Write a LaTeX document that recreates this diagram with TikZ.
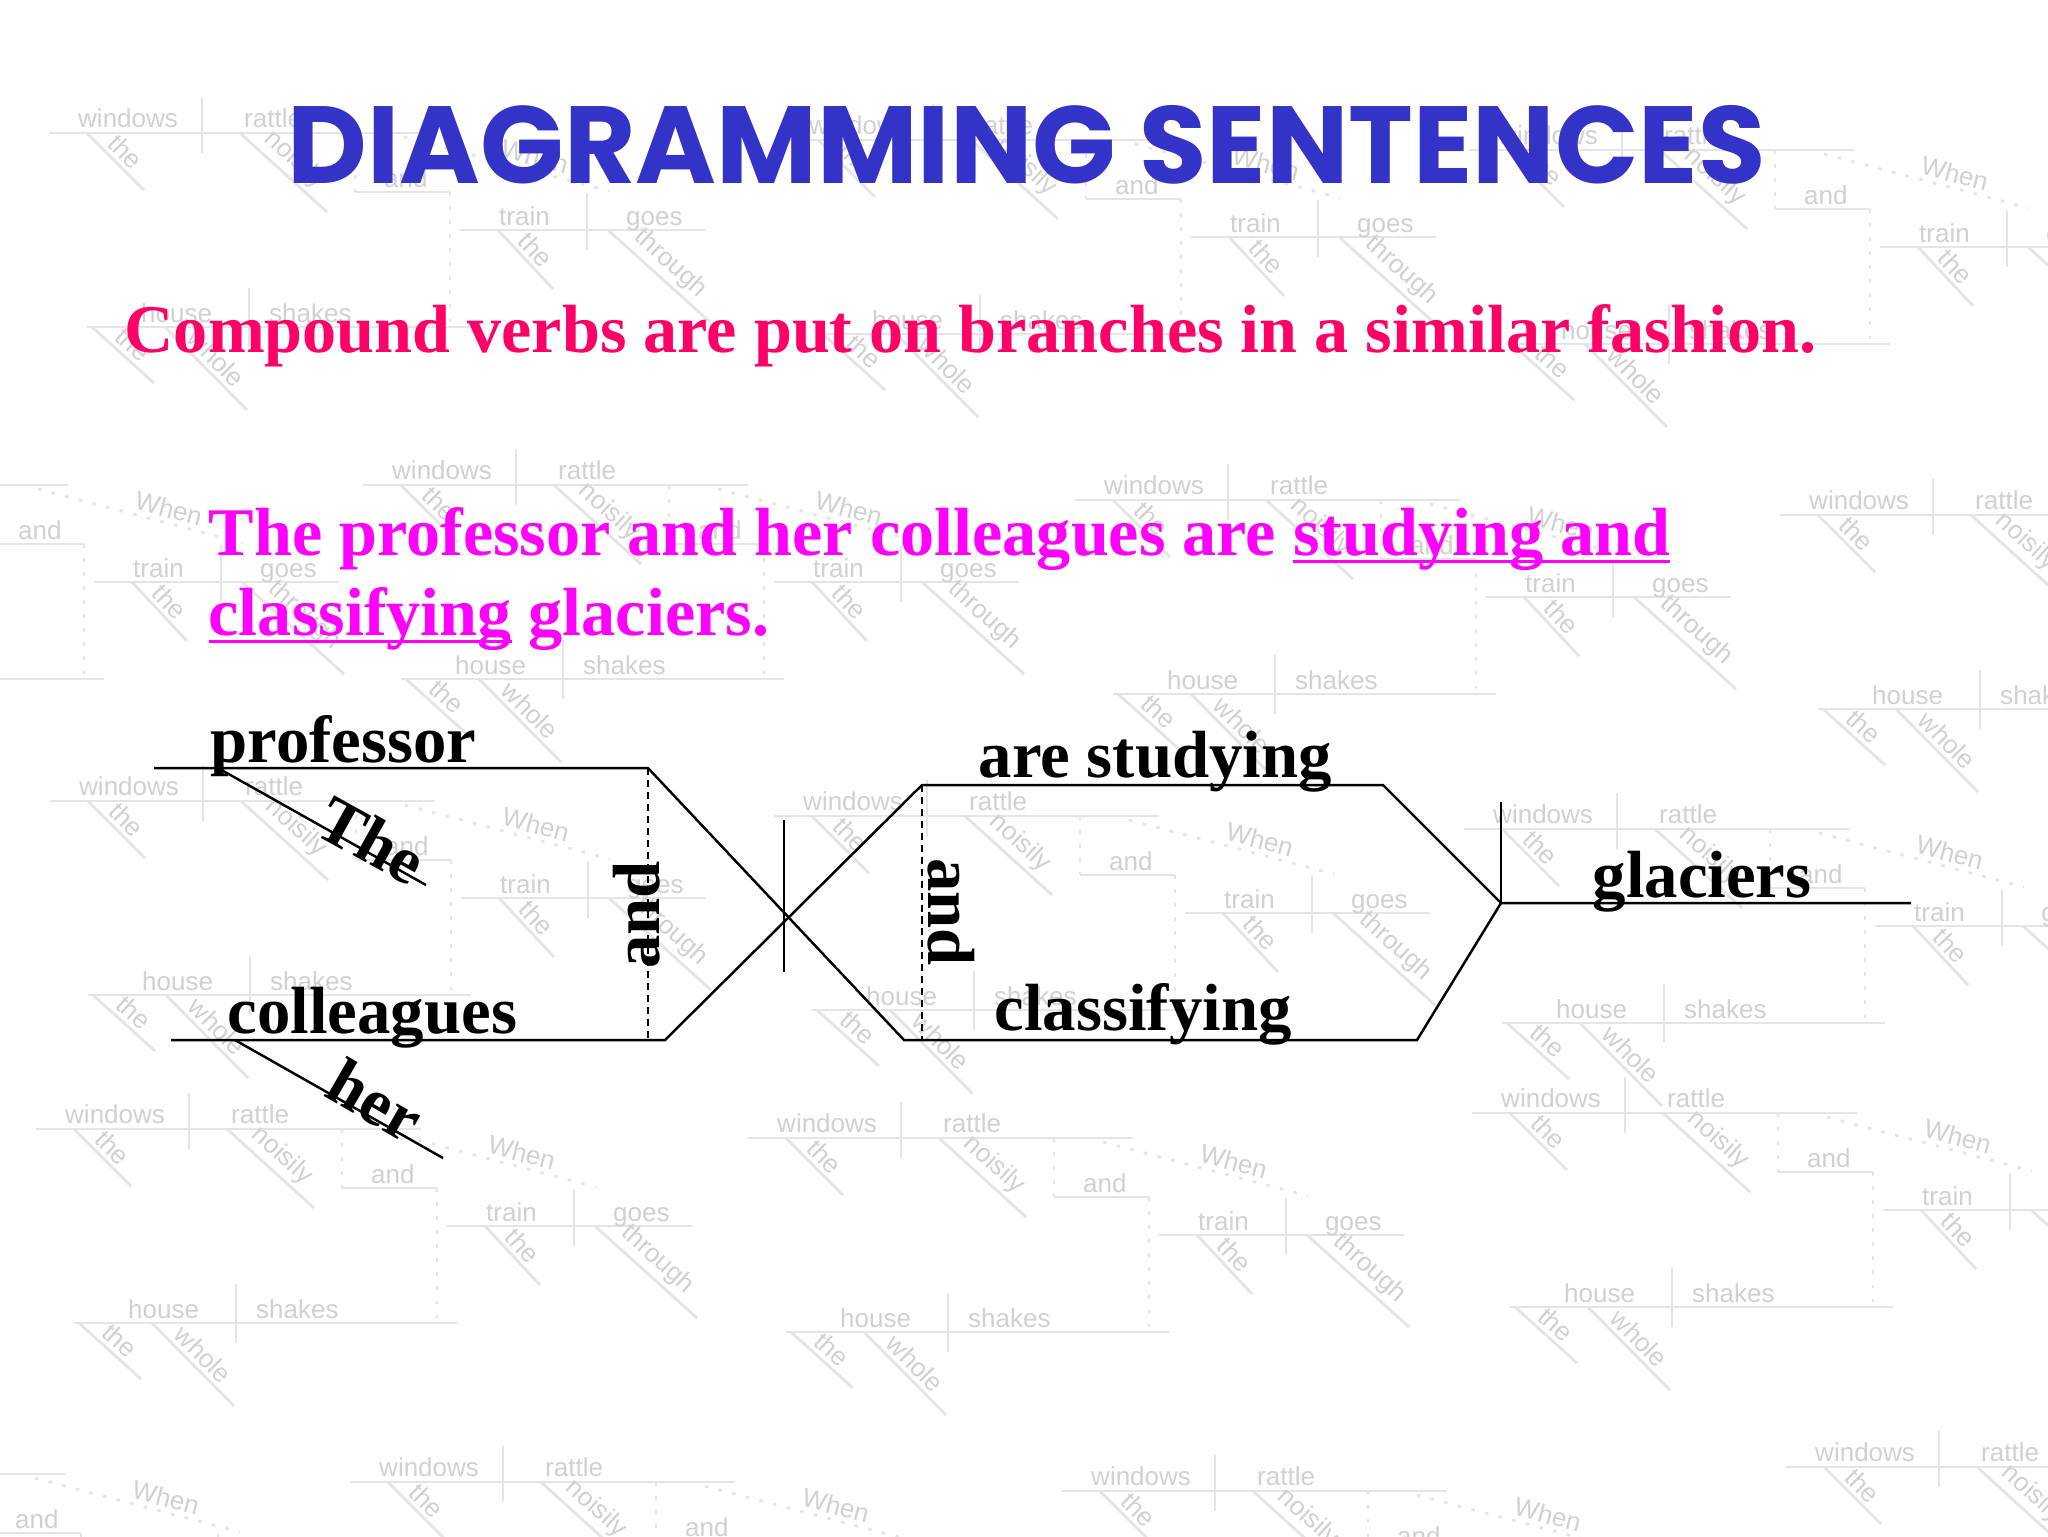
\documentclass[tikz,border=0pt]{standalone}
\usepackage{fontspec}
\setmainfont{Liberation Serif}
\newfontfamily\titlefont{Poppins}
\newfontfamily\bgfont{Liberation Sans}
\usetikzlibrary{positioning}

\definecolor{titleblue}{RGB}{51,51,200}
\definecolor{rulered}{RGB}{255,0,102}
\definecolor{samplepink}{RGB}{255,0,255}

% underline at a fixed depth, through the descenders
\newsavebox\ulbox
\newcommand{\ulword}[1]{\sbox\ulbox{#1}\rlap{\rule[-2.4pt]{\wd\ulbox}{0.85pt}}\usebox\ulbox}

\tikzset{
  word/.style={font=\fontsize{19}{19}\selectfont\bfseries, inner sep=0pt},
  baseline line/.style={line width=0.7pt},
  joiner/.style={line width=0.7pt, dash pattern=on 2pt off 1.4pt},
  bgline/.style={line width=0.8pt, black!10},
  bgdots/.style={line width=0.8pt, black!10, dash pattern=on 1pt off 3pt},
  bgtext/.style={font=\bgfont\fontsize{7.4}{7.4}\selectfont, text=black!18, inner sep=1pt},
}

% one faint watermark diagram, origin at left end of its first baseline
\newcommand{\bgtile}[3]{%
  \begin{scope}[shift={(#1,#2)}]
    \draw[bgline] (0,0) -- (385,0);
    \draw[bgline] (153,-36) -- (153,20);
    \node[bgtext, anchor=base west] (win#3) at (25,-6) {windows};
    \node[bgtext, anchor=base west] (rat#3) at (191,-6) {rattle};
    \draw[bgline] (38,0) -- node[bgtext, sloped, above] (tha#3) {the} (95,57);
    \draw[bgline] (191,0) -- node[bgtext, sloped, above] (noi#3) {noisily} (278,79);
    \draw[bgdots] (306,0) -- (306,59);
    \draw[bgline] (306,59) -- (401,59);
    \node[bgtext, anchor=base west] (and#3) at (331,54) {and};
    \draw[bgdots] (401,59) -- (401,194);
    % second clause
    \draw[bgline] (411,97) -- (656,97);
    \draw[bgline] (538,60) -- (538,117);
    \node[bgtext, anchor=base west] (tra#3) at (446,92) {train};
    \node[bgtext, anchor=base west] (goe#3) at (573,92) {goes};
    \draw[bgline] (449,97) -- node[bgtext, sloped, above] (thb#3) {the} (504,156);
    \draw[bgline] (559,97) -- node[bgtext, sloped, above] (thr#3) {through} (661,189);
    % main clause
    \draw[bgline] (38,194) -- (421,194);
    \draw[bgline] (200,155) -- (200,214);
    \node[bgtext, anchor=base west] (hou#3) at (88,189) {house};
    \node[bgtext, anchor=base west] (sha#3) at (216,189) {shakes};
    \draw[bgline] (43,194) -- node[bgtext, sloped, above] (thc#3) {the} (105,250);
    \draw[bgline] (116,194) -- node[bgtext, sloped, above] (who#3) {whole} (198,277);
    \draw[bgdots] (355,4) -- node[bgtext, sloped, above, pos=0.62] (whe#3) {When} (560,58);
  \end{scope}}

\begin{document}
\begin{tikzpicture}[x=0.1mm, y=-0.1mm]
  \useasboundingbox (0,0) rectangle (2048,1536);
  \fill[white] (0,0) rectangle (2048,1536);

  % Watermark background
  \begin{scope}
    \clip (0,0) rectangle (2048,1536);
    \foreach \x/\y/\k in {49/133/a, 780/140/b, 1469/150/c,
        -317/485/d, 363/485/e, 1075/500/f, 1780/515/g,
        50/801/h, 774/816/i, 1464/829/j,
        36/1129/k, 748/1138/l, 1472/1113/m,
        -320/1474/n, 350/1482/o, 1062/1491/p, 1786/1467/q} {
      \bgtile{\x}{\y}{\k}
    }
  \end{scope}

  % Headings
  \node[anchor=base west, inner sep=0pt, text=titleblue,
        font=\titlefont\bfseries\fontsize{31.2}{31.2}\selectfont] (title) at (287,183) {DIAGRAMMING SENTENCES};
  \node[anchor=base west, inner sep=0pt, text=rulered,
        font=\bfseries\fontsize{19.4}{19.4}\selectfont] (rule) at (124,352) {Compound verbs are put on branches in a similar fashion.};
  \node[anchor=base west, inner sep=0pt, text=samplepink,
        font=\bfseries\fontsize{19.4}{19.4}\selectfont] (sample1) at (208,555) {The professor and her colleagues are \ulword{studying and}};
  \node[anchor=base west, inner sep=0pt, text=samplepink,
        font=\bfseries\fontsize{19.4}{19.4}\selectfont] (sample2) at (208,635) {\ulword{classifying} glaciers.};

  % Points of the diagram
  \coordinate (profL) at (154,768);
  \coordinate (profR) at (648,768);
  \coordinate (collL) at (171,1040);
  \coordinate (collR) at (665,1040);
  \coordinate (studyL) at (922,785);
  \coordinate (studyR) at (1383,785);
  \coordinate (classL) at (904,1040);
  \coordinate (classR) at (1417,1040);
  \coordinate (fork) at (1501,903);
  \coordinate (objR) at (1911,903);
  \coordinate (objT) at (1501,802);
  \coordinate (cutT) at (784,820);
  \coordinate (cutB) at (784,972);
  \coordinate (theA) at (218,768);
  \coordinate (theB) at (426,885);
  \coordinate (herA) at (235,1040);
  \coordinate (herB) at (443,1158);

  % Subjects
  \draw[baseline line] (profL) -- (profR) -- (classL) -- (classR) -- (fork);
  \draw[baseline line] (collL) -- (collR) -- (studyL) -- (studyR) -- (fork) -- (objR);
  \draw[baseline line] (cutT) -- (cutB);
  \draw[baseline line] (objT) -- (fork);
  \draw[joiner] (profR) -- (profR |- collR);
  \draw[joiner] (studyL) -- (studyL |- classL);
  \draw[baseline line] (theA) -- (theB);
  \draw[baseline line] (herA) -- (herB);

  % Words
  \node[word, anchor=base west] (professor) at (210,762) {professor};
  \node[word, anchor=base west] (colleagues) at (227,1033) {colleagues};
  \node[word, anchor=base west] (studying) at (978,777) {are studying};
  \node[word, anchor=base west] (classifying) at (994,1030) {classifying};
  \node[word, anchor=base west] (glaciers) at (1592,897) {glaciers};
  \node[word, rotate=-29] (the) at (372,840) {The};
  \node[word, rotate=-30] (her) at (376,1100) {her};
  \node[word, rotate=90] (andL) at (637,915) {and};
  \node[word, rotate=-90] (andR) at (951,912) {and};
\end{tikzpicture}
\end{document}
